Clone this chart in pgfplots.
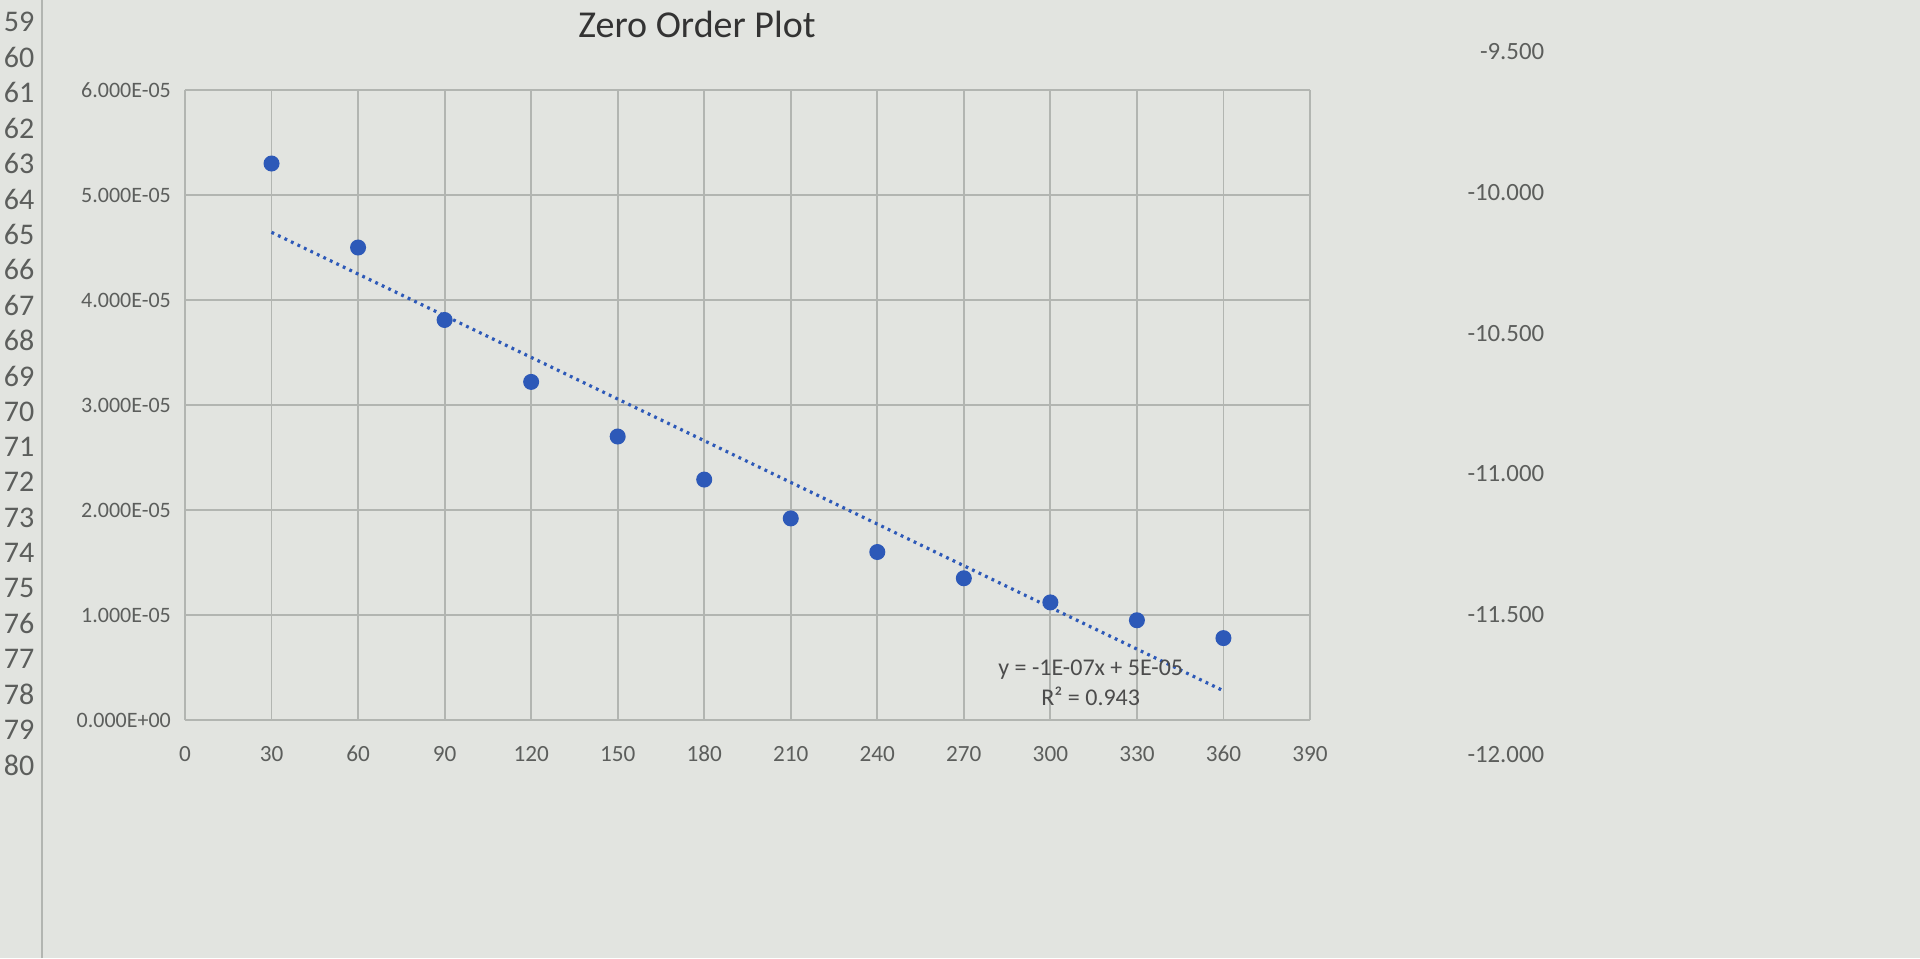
\documentclass[border=0pt]{standalone}
\usepackage{pgfplots}
\pgfplotsset{compat=1.18}
\usepackage{pgfplotstable}
\usepackage{fontspec}
\setmainfont{Carlito}

\definecolor{ptblue}{HTML}{2D59B8}
\definecolor{sheet}{HTML}{E2E4E0}
\definecolor{gridc}{HTML}{B2B5B1}
\definecolor{labc}{HTML}{5C5E5C}

% time (min) vs concentration
\pgfplotstableread{
t   conc
30  5.30e-5
60  4.50e-5
90  3.81e-5
120 3.22e-5
150 2.70e-5
180 2.29e-5
210 1.92e-5
240 1.60e-5
270 1.35e-5
300 1.12e-5
330 0.95e-5
360 0.78e-5
}\zerodata

\begin{document}
\begin{tikzpicture}[x=1pt,y=1pt]
\useasboundingbox (0,0) rectangle (480,239.5);
% spreadsheet behind the chart
\fill[sheet] (0,0) rectangle (480,239.5);
\draw[gridc, line width=0.4pt] (10.5,0) -- (10.5,239.5);
\foreach \r [count=\i from 0] in {59,...,80}
  \node[anchor=west, inner sep=0pt, text=labc, font=\fontsize{7.5}{8}\selectfont]
    at (0.8, {239.5-0.25*(22+35.4*\i)}) {\r};
% scale of the neighbouring chart on the right
\foreach \v [count=\i from 0] in {-9.500,-10.000,-10.500,-11.000,-11.500,-12.000}
  \node[anchor=east, inner sep=0pt, text=labc, font=\fontsize{6.2}{7}\selectfont]
    at (386.25, {239.5-0.25*(52+140.6*\i)}) {\v};
% chart title
\node[inner sep=0pt, text=black!80, font=\fontsize{9.5}{10}\selectfont]
  at (174.25,233.5) {Zero Order Plot};

\begin{axis}[
    at={(46.25pt,59.5pt)}, anchor=south west,
    scale only axis,
    width=281.25pt, height=157.5pt,
    xmin=0, xmax=390, ymin=0, ymax=6e-5,
    xtick={0,30,...,390},
    ytick={0,1e-5,2e-5,3e-5,4e-5,5e-5,6e-5},
    yticklabels={0.000E+00,1.000E-05,2.000E-05,3.000E-05,4.000E-05,5.000E-05,6.000E-05},
    scaled y ticks=false,
    axis lines*=left,
    axis line style={gridc, line width=0.5pt},
    major tick length=0pt,
    grid=major,
    major grid style={gridc, line width=0.45pt},
    tick label style={text=labc},
    xticklabel style={font=\fontsize{5.8}{6}\selectfont, yshift=-3pt},
    yticklabel style={font=\fontsize{5.5}{6}\selectfont},
    /pgf/number format/assume math mode=true,
    clip=false,
]
\addplot[only marks, mark=*, mark size=1.8pt, ptblue] table[x=t, y=conc] {\zerodata};
\addplot[ptblue, line width=0.8pt, dash pattern=on 0.7pt off 1.1pt]
  table[x=t, y={create col/linear regression={y=conc}}] {\zerodata};
\node[align=center, text=black!70, font=\fontsize{6}{7.5}\selectfont]
  at (axis cs:314,0.35e-5) {y = -1E-07x + 5E-05\\R² = 0.943};
\end{axis}
\end{tikzpicture}
\end{document}
